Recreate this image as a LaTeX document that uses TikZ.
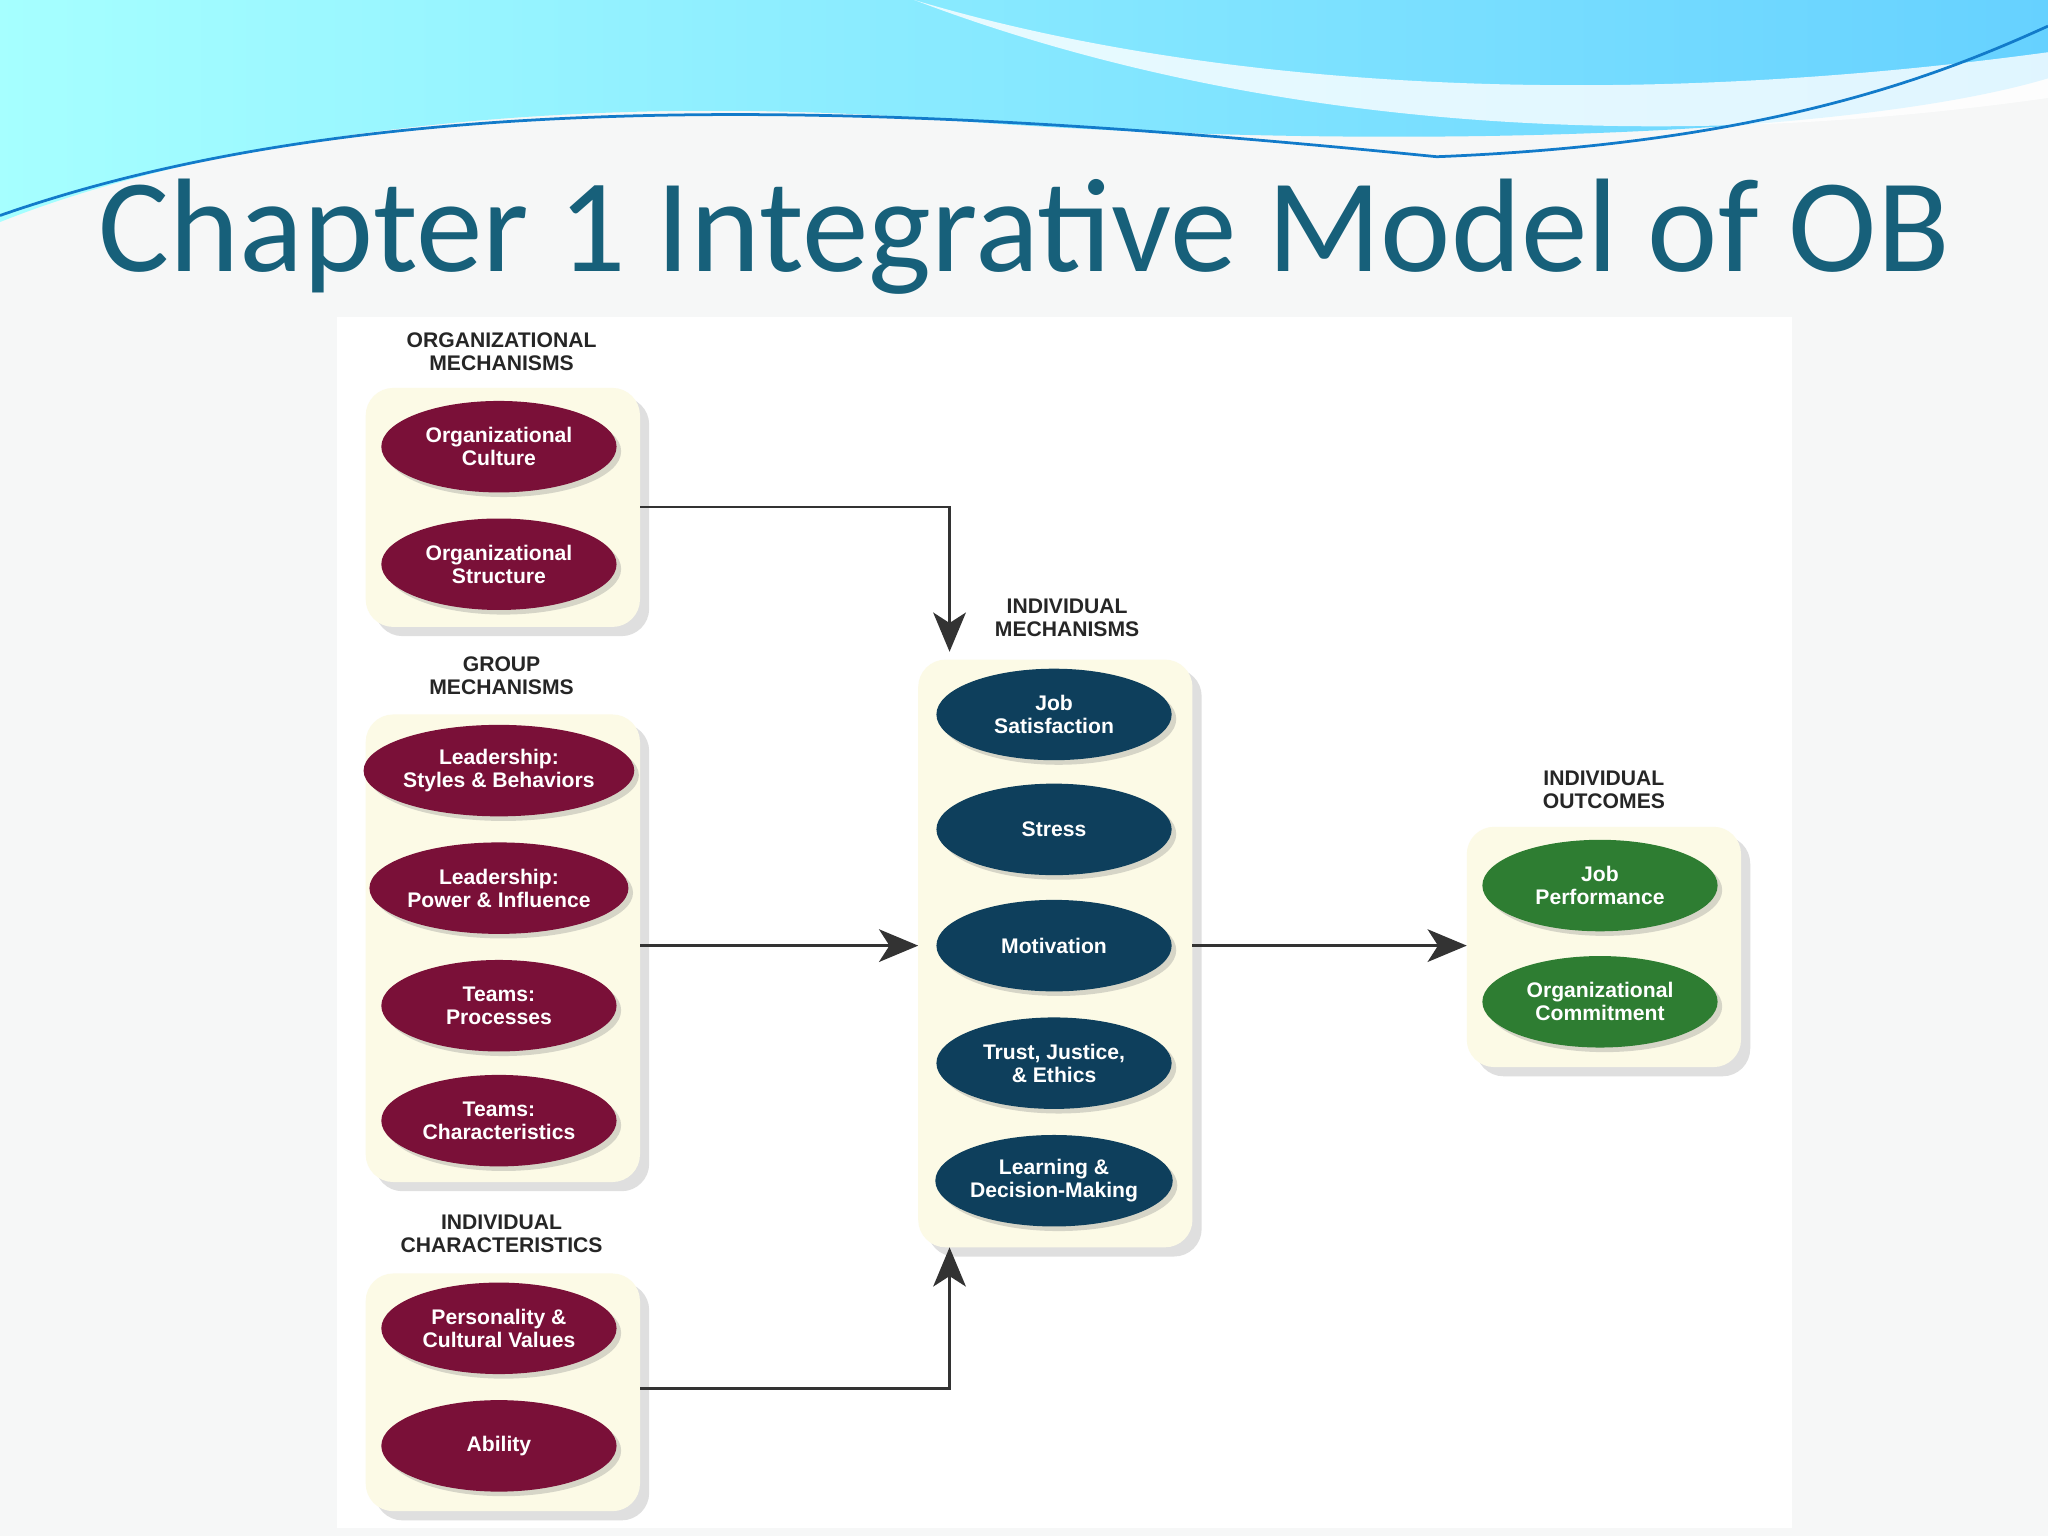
\documentclass[tikz,border=0pt]{standalone}
\usepackage{fontspec}
\setmainfont{Liberation Sans}
\newfontfamily\titlefont{Carlito}
\usetikzlibrary{shapes.geometric,arrows.meta,shadows}
\definecolor{titleteal}{HTML}{17607A}
\definecolor{maroon}{HTML}{7A1038}
\definecolor{navy}{HTML}{0E3F5C}
\definecolor{leaf}{HTML}{2E7D32}
\definecolor{cream}{HTML}{FCFAE6}
\definecolor{slide}{HTML}{F6F7F7}
\begin{document}
\begin{tikzpicture}[x=0.01cm,y=-0.01cm,
        panel/.style={fill=cream,draw=none,rounded corners=6pt,drop shadow={shadow xshift=2pt,shadow yshift=-2pt,opacity=0.25}},
        oval/.style={ellipse,minimum width=1.8cm,minimum height=0.7cm,inner sep=0pt,text=white,align=center,
            font=\bfseries\fontsize{4.6}{5}\selectfont,draw=none,drop shadow={shadow xshift=1pt,shadow yshift=-1pt,opacity=0.3}},
        org/.style={oval,fill=maroon},
        ind/.style={oval,fill=navy},
        result/.style={oval,fill=leaf},
        head/.style={align=center,font=\bfseries\fontsize{4.6}{5}\selectfont,text=black!85},
        link/.style={draw=black!80,line width=0.5pt,-{Stealth[length=0.3cm,width=0.25cm,inset=0.08cm]}}]
    \useasboundingbox (0,0) rectangle (1568,1176);
    \fill[slide] (0,0) rectangle (1568,1176);
    % wave band
    \shade[left color=cyan!35,right color=cyan!70!blue!60] (0,0) -- (1568,0) -- (1568,60)
        .. controls (1400,110) and (1000,115) .. (700,90)
        .. controls (400,70) and (150,110) .. (0,170) -- cycle;
    \fill[white,opacity=0.8] (700,0) .. controls (900,60) and (1200,90) .. (1568,40) -- (1568,75)
        .. controls (1250,120) and (950,95) .. (700,0) -- cycle;
    \draw[cyan!60!blue,line width=0.6pt] (0,165) .. controls (300,60) and (700,80) .. (1100,120)
        .. controls (1350,110) and (1480,60) .. (1568,20);
    \node[anchor=base west,inner sep=0pt,text=titleteal,font=\titlefont\fontsize{29}{30}\selectfont] (title) at (75,208)
        {Chapter 1 Integrative Model of OB};
    \fill[white] (258,243) rectangle (1372,1170);
    % panels
    \path[panel] (280,297) rectangle (490,480);
    \path[panel] (280,547) rectangle (490,905);
    \path[panel] (280,975) rectangle (490,1157);
    \path[panel] (703,505) rectangle (913,955);
    \path[panel] (1123,633) rectangle (1333,817);
    % headers
    \node[head] (hOrg) at (384,269) {ORGANIZATIONAL\\MECHANISMS};
    \node[head] (hGrp) at (384,517) {GROUP\\MECHANISMS};
    \node[head] (hChr) at (384,945) {INDIVIDUAL\\CHARACTERISTICS};
    \node[head] (hInd) at (817,473) {INDIVIDUAL\\MECHANISMS};
    \node[head] (hOut) at (1228,605) {INDIVIDUAL\\OUTCOMES};
    % ovals
    \node[org] (culture) at (382,342) {Organizational\\Culture};
    \node[org] (structure) at (382,432) {Organizational\\Structure};
    \node[org] (styles) at (382,590) {Leadership:\\Styles \& Behaviors};
    \node[org] (power) at (382,680) {Leadership:\\Power \& Influence};
    \node[org] (processes) at (382,770) {Teams:\\Processes};
    \node[org] (traits) at (382,858) {Teams:\\Characteristics};
    \node[org] (values) at (382,1017) {Personality \&\\Cultural Values};
    \node[org] (ability) at (382,1107) {Ability};
    \node[ind] (satisfaction) at (807,547) {Job\\Satisfaction};
    \node[ind] (stress) at (807,635) {Stress};
    \node[ind] (motivation) at (807,724) {Motivation};
    \node[ind] (trust) at (807,814) {Trust, Justice,\\\& Ethics};
    \node[ind] (learning) at (807,904) {Learning \&\\Decision-Making};
    \node[result] (performance) at (1225,678) {Job\\Performance};
    \node[result] (commitment) at (1225,767) {Organizational\\Commitment};
    % connectors
    \coordinate (orgOut) at (490,388);
    \coordinate (indTop) at (727,499);
    \coordinate (grpOut) at (490,724);
    \coordinate (indLeft) at (703,724);
    \coordinate (indRight) at (913,724);
    \coordinate (outLeft) at (1123,724);
    \coordinate (chrOut) at (490,1063);
    \coordinate (indBot) at (727,955);
    \draw[link] (orgOut) -| (indTop);
    \draw[link] (grpOut) -- (indLeft);
    \draw[link] (indRight) -- (outLeft);
    \draw[link] (chrOut) -| (indBot);
\end{tikzpicture}
\end{document}
